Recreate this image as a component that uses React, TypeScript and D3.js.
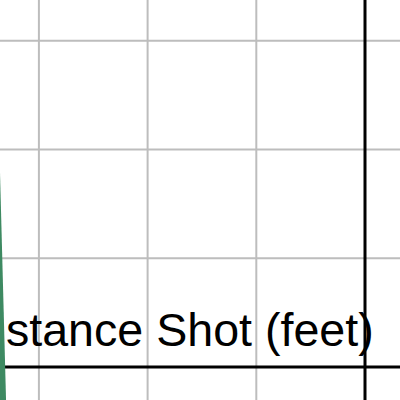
import React, { useEffect, useRef } from 'react';
import * as d3 from 'd3';

// grid ticks (data units) - the view is a close crop around the origin
const xTicks = [-30, -20, -10, 0];
const yTicks = [10, 20, 30, 0];

// shot trace, mostly outside the visible window
const shotX = [-34.27, -33.34];
const shotY = [30, -5];

const axisLabel = 'Distance Shot (feet)';

export default function App() {
  const svgRef = useRef<SVGSVGElement>(null);

  useEffect(() => {
    if (!svgRef.current) return;
    const svg = d3.select(svgRef.current);
    svg.selectAll('*').remove();

    const width = 400;
    const height = 400;

    // pixel origin sits near bottom-right, ~10.87 px per foot
    const xScale = d3.scaleLinear().domain([-33.58, 3.22]).range([0, width]);
    const yScale = d3.scaleLinear().domain([-3.04, 33.76]).range([height, 0]);

    const g = svg.append('g');

    // grey grid
    g.selectAll('.vgrid')
      .data(xTicks.filter(d => d !== 0))
      .enter()
      .append('line')
      .attr('x1', d => xScale(d))
      .attr('x2', d => xScale(d))
      .attr('y1', 0)
      .attr('y2', height)
      .attr('stroke', '#bdbdbd')
      .attr('stroke-width', 2);

    g.selectAll('.hgrid')
      .data(yTicks.filter(d => d !== 0))
      .enter()
      .append('line')
      .attr('x1', 0)
      .attr('x2', width)
      .attr('y1', d => yScale(d))
      .attr('y2', d => yScale(d))
      .attr('stroke', '#bdbdbd')
      .attr('stroke-width', 2);

    // axis label
    g.append('text')
      .attr('x', xScale(-37.08))
      .attr('y', 346)
      .style('font-family', '"Liberation Sans", Arial, sans-serif')
      .style('font-size', '46.6px')
      .style('fill', '#000')
      .text(axisLabel);

    // zero lines
    g.append('line')
      .attr('x1', xScale(0))
      .attr('x2', xScale(0))
      .attr('y1', 0)
      .attr('y2', height)
      .attr('stroke', '#000')
      .attr('stroke-width', 3);

    g.append('line')
      .attr('x1', 0)
      .attr('x2', width)
      .attr('y1', yScale(0))
      .attr('y2', yScale(0))
      .attr('stroke', '#000')
      .attr('stroke-width', 3);

    // shot trace
    const pts = shotX.map((x, i) => ({ x, y: shotY[i] }));
    const line = d3.line<{ x: number; y: number }>()
      .x(d => xScale(d.x))
      .y(d => yScale(d.y));

    g.append('path')
      .datum(pts)
      .attr('d', line)
      .attr('fill', 'none')
      .attr('stroke', '#3e8a62')
      .attr('stroke-width', 8);
  }, []);

  return (
    <div style={{ position: 'fixed', left: 0, top: 0, width: 400, height: 400, background: '#fff' }}>
      <svg ref={svgRef} width={400} height={400} style={{ display: 'block' }}></svg>
    </div>
  );
}
